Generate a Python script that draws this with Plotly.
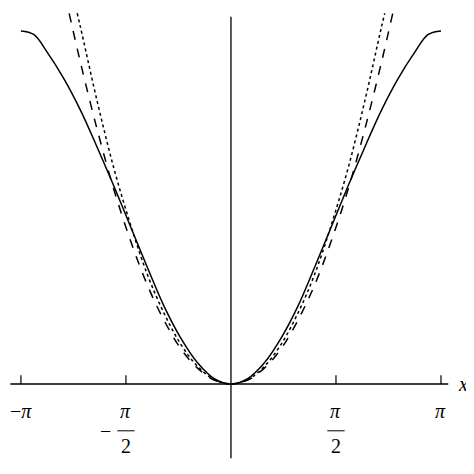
import plotly.graph_objects as go
import math

xs_solid = [0, 0.25, 0.5, 0.75, 1.0, 1.25, 1.5, 1.75, 2.0, 2.25, 2.5, 2.75, 2.95, 3.1416]
ys_solid = [0, 0.03, 0.12, 0.26, 0.44, 0.66, 0.89, 1.12, 1.34, 1.55, 1.73, 1.88, 1.98, 2.0]
xs_dash = [0, 0.25, 0.5, 0.75, 1.0, 1.25, 1.5, 1.75, 2.0, 2.25, 2.42]
ys_dash = [0, 0.022, 0.09, 0.2, 0.36, 0.56, 0.81, 1.1, 1.44, 1.82, 2.1]
xs_dot = [0, 0.25, 0.5, 0.75, 1.0, 1.25, 1.5, 1.75, 2.0, 2.25, 2.3]
ys_dot = [0, 0.025, 0.1, 0.225, 0.4, 0.62, 0.9, 1.22, 1.6, 2.02, 2.1]

def sym(xs, ys):
    return [-v for v in xs[::-1]] + xs[1:], ys[::-1] + ys[1:]

fig = go.Figure()
for xs, ys, dash in [(xs_solid, ys_solid, "solid"), (xs_dash, ys_dash, "dash"), (xs_dot, ys_dot, "dot")]:
    X, Y = sym(xs, ys)
    fig.add_trace(go.Scatter(x=X, y=Y, mode="lines", line=dict(color="black", width=1.5, dash=dash, shape="spline"), showlegend=False))

pi = math.pi
fig.add_shape(type="line", x0=-3.3, x1=3.25, y0=0, y1=0, line=dict(color="black", width=1.3))
fig.add_shape(type="line", x0=0, x1=0, y0=-0.42, y1=2.08, line=dict(color="black", width=1.3))
for t in [-pi, -pi/2, pi/2, pi]:
    fig.add_shape(type="line", x0=t, x1=t, y0=0, y1=0.05, line=dict(color="black", width=1.2))
f = dict(family="Liberation Serif", size=20, color="black")
fig.add_annotation(x=3.36, y=0, text="<i>x</i>", showarrow=False, font=f, xanchor="left")
fig.add_annotation(x=-pi, y=-0.08, text="−<i>π</i>", showarrow=False, font=f, yanchor="top")
fig.add_annotation(x=pi, y=-0.08, text="<i>π</i>", showarrow=False, font=f, yanchor="top")
for t, neg in [(-pi/2, True), (pi/2, False)]:
    fig.add_annotation(x=t, y=-0.08, text="<i>π</i>", showarrow=False, font=f, yanchor="top")
    fig.add_shape(type="line", x0=t-0.13, x1=t+0.13, y0=-0.265, y1=-0.265, line=dict(color="black", width=1))
    fig.add_annotation(x=t, y=-0.28, text="2", showarrow=False, font=f, yanchor="top")
    if neg:
        fig.add_annotation(x=t-0.2, y=-0.265, text="−", showarrow=False, font=f, xanchor="right")

fig.update_layout(width=474, height=474, margin=dict(l=0, r=0, t=0, b=0),
                  plot_bgcolor="white", paper_bgcolor="white",
                  xaxis=dict(range=[-3.335, 3.755], visible=False),
                  yaxis=dict(range=[-0.555, 2.13], visible=False))
fig.write_html("out.html")
